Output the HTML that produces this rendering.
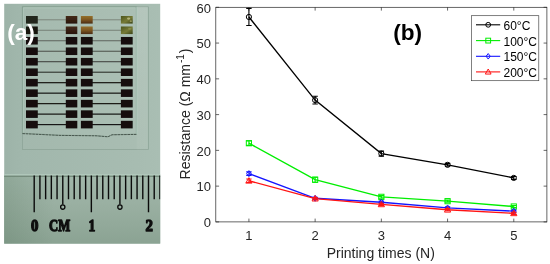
<!DOCTYPE html>
<html lang="en"><head><meta charset="utf-8"><title>Figure</title>
<style>
html,body{margin:0;padding:0;background:#fff;}
body{width:550px;height:264px;overflow:hidden;}
svg{display:block;}
text{font-family:"Liberation Sans",Arial,sans-serif;}
.tk{font-size:13px;fill:#262626;}
.lb{font-size:14px;fill:#262626;}
.lg{font-size:12px;fill:#000;}
.rl{font-family:"Liberation Serif","Times New Roman",serif;font-weight:bold;font-size:17px;fill:#0c0c0c;}
.pl{font-weight:bold;font-size:22.6px;}
</style></head><body>
<svg width="550" height="264" viewBox="0 0 550 264">
<defs>
<filter id="bl" x="-5%" y="-5%" width="110%" height="110%"><feGaussianBlur stdDeviation="0.45"/></filter>
<filter id="bl2" x="-5%" y="-5%" width="110%" height="110%"><feGaussianBlur stdDeviation="0.7"/></filter>
<linearGradient id="bg" gradientUnits="userSpaceOnUse" x1="4" y1="0" x2="160" y2="0"><stop offset="0" stop-color="#9db3a8"/><stop offset="0.12" stop-color="#a1b7ac"/><stop offset="0.85" stop-color="#a7bcb1"/><stop offset="1" stop-color="#a9beb3"/></linearGradient>
<linearGradient id="vl" gradientUnits="userSpaceOnUse" x1="0" y1="4" x2="0" y2="150"><stop offset="0" stop-color="#fff" stop-opacity="0.13"/><stop offset="1" stop-color="#fff" stop-opacity="0.04"/></linearGradient>
<linearGradient id="ruler" x1="0" y1="0" x2="0" y2="1"><stop offset="0" stop-color="#a2b8ab"/><stop offset="0.45" stop-color="#99afa1"/><stop offset="1" stop-color="#8ba393"/></linearGradient>
<linearGradient id="lshade" x1="0" y1="0" x2="1" y2="0"><stop offset="0" stop-color="#4a6a52" stop-opacity="0.22"/><stop offset="1" stop-color="#4a6a52" stop-opacity="0"/></linearGradient>
<linearGradient id="gold" x1="0" y1="0" x2="0" y2="1"><stop offset="0" stop-color="#94702c"/><stop offset="0.5" stop-color="#7c5520"/><stop offset="1" stop-color="#4a2d15"/></linearGradient>
<linearGradient id="brown" x1="0" y1="0" x2="0" y2="1"><stop offset="0" stop-color="#442a16"/><stop offset="1" stop-color="#28140d"/></linearGradient>
<linearGradient id="olive" x1="0" y1="0" x2="1" y2="1"><stop offset="0" stop-color="#4b541c"/><stop offset="0.55" stop-color="#767a36"/><stop offset="1" stop-color="#3a4216"/></linearGradient>
<clipPath id="pc"><rect x="4.2" y="3.8" width="156" height="239.8"/></clipPath>
</defs>
<rect width="550" height="264" fill="#fff"/>

<g filter="url(#bl)">
<rect x="4.2" y="3.8" width="156.0" height="239.79999999999998" fill="url(#bg)"/>
<rect x="22.4" y="6.8" width="126" height="142.8" fill="#fff" fill-opacity="0.025" stroke="#8aa295" stroke-width="0.7"/>
<rect x="136.8" y="6.8" width="10.8" height="142.8" fill="url(#vl)"/>
<path d="M22.4 6.8H136.4V134.2L112 134.6L108 136.6L96 135.6L60 135.2L22.4 133.2Z" fill="#fff" fill-opacity="0.03" stroke="#879f90" stroke-width="0.8"/>
<path d="M23.4 7.8H135.4" fill="none" stroke="#b6cdc1" stroke-width="0.7"/>
<path d="M23.4 7.8V132.6" fill="none" stroke="#b0c8bb" stroke-width="0.7"/>
<path d="M136.9 7V134" fill="none" stroke="#b8d0c4" stroke-width="0.8"/>
<path d="M22.4 133.6L60 135.4L96 135.8L108 136.8L112 134.8L136.4 134.4" fill="none" stroke="#3f4d45" stroke-width="0.9" stroke-dasharray="2.6 0.7"/>
<rect x="4.2" y="175.6" width="156.0" height="68.0" fill="url(#ruler)"/>
<rect x="4.2" y="175.6" width="50" height="68.0" fill="url(#lshade)"/>
<rect x="4.2" y="174.2" width="156.0" height="1.2" fill="#b4cbbe"/>
<rect x="4.2" y="175.7" width="156.0" height="1.2" fill="#708877"/>
<line x1="37" y1="19.80" x2="66.5" y2="19.80" stroke="#6a6f66" stroke-width="0.7"/>
<line x1="92" y1="19.80" x2="121.5" y2="19.80" stroke="#6a6f66" stroke-width="0.7"/>
<rect x="26" y="16.00" width="11.80" height="7.6" fill="#23281d"/>
<rect x="65.8" y="16.00" width="11.50" height="7.6" fill="url(#brown)"/>
<rect x="80.9" y="16.00" width="11.80" height="7.6" fill="url(#gold)"/>
<rect x="120.9" y="16.00" width="11.80" height="7.6" fill="url(#olive)"/>
<line x1="37" y1="30.28" x2="66.5" y2="30.28" stroke="#62675e" stroke-width="0.7"/>
<line x1="92" y1="30.28" x2="121.5" y2="30.28" stroke="#62675e" stroke-width="0.7"/>
<rect x="26" y="26.48" width="11.80" height="7.6" fill="#181410"/>
<rect x="65.8" y="26.48" width="11.50" height="7.6" fill="url(#brown)"/>
<rect x="80.9" y="26.48" width="11.80" height="7.6" fill="url(#gold)"/>
<rect x="120.9" y="26.48" width="11.80" height="7.6" fill="url(#olive)"/>
<line x1="37" y1="40.76" x2="66.5" y2="40.76" stroke="#4a4d46" stroke-width="0.8"/>
<line x1="92" y1="40.76" x2="121.5" y2="40.76" stroke="#4a4d46" stroke-width="0.8"/>
<rect x="26" y="36.96" width="11.80" height="7.6" fill="#15110f"/>
<rect x="65.8" y="36.96" width="11.50" height="7.6" fill="#15110f"/>
<rect x="80.9" y="36.96" width="11.80" height="7.6" fill="#15110f"/>
<rect x="120.9" y="36.96" width="11.80" height="7.6" fill="#15110f"/>
<line x1="37" y1="51.24" x2="66.5" y2="51.24" stroke="#3a3c36" stroke-width="0.85"/>
<line x1="92" y1="51.24" x2="121.5" y2="51.24" stroke="#3a3c36" stroke-width="0.85"/>
<rect x="26" y="47.44" width="11.80" height="7.6" fill="#15110f"/>
<rect x="65.8" y="47.44" width="11.50" height="7.6" fill="#15110f"/>
<rect x="80.9" y="47.44" width="11.80" height="7.6" fill="#15110f"/>
<rect x="120.9" y="47.44" width="11.80" height="7.6" fill="#15110f"/>
<line x1="37" y1="61.72" x2="66.5" y2="61.72" stroke="#2c2d28" stroke-width="0.9"/>
<line x1="92" y1="61.72" x2="121.5" y2="61.72" stroke="#2c2d28" stroke-width="0.9"/>
<rect x="26" y="57.92" width="11.80" height="7.6" fill="#15110f"/>
<rect x="65.8" y="57.92" width="11.50" height="7.6" fill="#15110f"/>
<rect x="80.9" y="57.92" width="11.80" height="7.6" fill="#15110f"/>
<rect x="120.9" y="57.92" width="11.80" height="7.6" fill="#15110f"/>
<line x1="37" y1="72.20" x2="66.5" y2="72.20" stroke="#22231f" stroke-width="1.0"/>
<line x1="92" y1="72.20" x2="121.5" y2="72.20" stroke="#22231f" stroke-width="1.0"/>
<rect x="26" y="68.40" width="11.80" height="7.6" fill="#15110f"/>
<rect x="65.8" y="68.40" width="11.50" height="7.6" fill="#15110f"/>
<rect x="80.9" y="68.40" width="11.80" height="7.6" fill="#15110f"/>
<rect x="120.9" y="68.40" width="11.80" height="7.6" fill="#15110f"/>
<line x1="37" y1="82.68" x2="66.5" y2="82.68" stroke="#141412" stroke-width="1.2"/>
<line x1="92" y1="82.68" x2="121.5" y2="82.68" stroke="#141412" stroke-width="1.2"/>
<rect x="26" y="78.88" width="11.80" height="7.6" fill="#15110f"/>
<rect x="65.8" y="78.88" width="11.50" height="7.6" fill="#15110f"/>
<rect x="80.9" y="78.88" width="11.80" height="7.6" fill="#15110f"/>
<rect x="120.9" y="78.88" width="11.80" height="7.6" fill="#15110f"/>
<line x1="37" y1="93.16" x2="66.5" y2="93.16" stroke="#141412" stroke-width="1.2"/>
<line x1="92" y1="93.16" x2="121.5" y2="93.16" stroke="#141412" stroke-width="1.2"/>
<rect x="26" y="89.36" width="11.80" height="7.6" fill="#15110f"/>
<rect x="65.8" y="89.36" width="11.50" height="7.6" fill="#15110f"/>
<rect x="80.9" y="89.36" width="11.80" height="7.6" fill="#15110f"/>
<rect x="120.9" y="89.36" width="11.80" height="7.6" fill="#15110f"/>
<line x1="37" y1="103.64" x2="66.5" y2="103.64" stroke="#141412" stroke-width="1.2"/>
<line x1="92" y1="103.64" x2="121.5" y2="103.64" stroke="#141412" stroke-width="1.2"/>
<rect x="26" y="99.84" width="11.80" height="7.6" fill="#15110f"/>
<rect x="65.8" y="99.84" width="11.50" height="7.6" fill="#15110f"/>
<rect x="80.9" y="99.84" width="11.80" height="7.6" fill="#15110f"/>
<rect x="120.9" y="99.84" width="11.80" height="7.6" fill="#15110f"/>
<line x1="37" y1="114.12" x2="66.5" y2="114.12" stroke="#141412" stroke-width="1.2"/>
<line x1="92" y1="114.12" x2="121.5" y2="114.12" stroke="#141412" stroke-width="1.2"/>
<rect x="26" y="110.32" width="11.80" height="7.6" fill="#15110f"/>
<rect x="65.8" y="110.32" width="11.50" height="7.6" fill="#15110f"/>
<rect x="80.9" y="110.32" width="11.80" height="7.6" fill="#15110f"/>
<rect x="120.9" y="110.32" width="11.80" height="7.6" fill="#15110f"/>
<line x1="37" y1="124.60" x2="66.5" y2="124.60" stroke="#141412" stroke-width="1.2"/>
<line x1="92" y1="124.60" x2="121.5" y2="124.60" stroke="#141412" stroke-width="1.2"/>
<rect x="26" y="120.80" width="11.80" height="7.6" fill="#15110f"/>
<rect x="65.8" y="120.80" width="11.50" height="7.6" fill="#15110f"/>
<rect x="80.9" y="120.80" width="11.80" height="7.6" fill="#15110f"/>
<rect x="120.9" y="120.80" width="11.80" height="7.6" fill="#15110f"/>
<ellipse cx="128.6" cy="18.6" rx="1.6" ry="1.1" fill="#c9c88f" fill-opacity="0.75"/><ellipse cx="130.8" cy="21.2" rx="1.1" ry="0.9" fill="#b9b87c" fill-opacity="0.6"/><ellipse cx="129.8" cy="28.8" rx="1.8" ry="0.9" fill="#9a9c58" fill-opacity="0.6"/>
</g>
<g stroke="#0b0b0b" stroke-width="1.4" clip-path="url(#pc)">
<line x1="34.20" y1="175.4" x2="34.20" y2="212.2"/>
<line x1="39.92" y1="175.4" x2="39.92" y2="199.2"/>
<line x1="45.63" y1="175.4" x2="45.63" y2="199.2"/>
<line x1="51.34" y1="175.4" x2="51.34" y2="199.2"/>
<line x1="57.06" y1="175.4" x2="57.06" y2="199.2"/>
<line x1="62.78" y1="175.4" x2="62.78" y2="204.4"/>
<line x1="68.49" y1="175.4" x2="68.49" y2="199.2"/>
<line x1="74.20" y1="175.4" x2="74.20" y2="199.2"/>
<line x1="79.92" y1="175.4" x2="79.92" y2="199.2"/>
<line x1="85.64" y1="175.4" x2="85.64" y2="199.2"/>
<line x1="91.35" y1="175.4" x2="91.35" y2="212.2"/>
<line x1="97.06" y1="175.4" x2="97.06" y2="199.2"/>
<line x1="102.78" y1="175.4" x2="102.78" y2="199.2"/>
<line x1="108.50" y1="175.4" x2="108.50" y2="199.2"/>
<line x1="114.21" y1="175.4" x2="114.21" y2="199.2"/>
<line x1="119.92" y1="175.4" x2="119.92" y2="204.4"/>
<line x1="125.64" y1="175.4" x2="125.64" y2="199.2"/>
<line x1="131.36" y1="175.4" x2="131.36" y2="199.2"/>
<line x1="137.07" y1="175.4" x2="137.07" y2="199.2"/>
<line x1="142.78" y1="175.4" x2="142.78" y2="199.2"/>
<line x1="148.50" y1="175.4" x2="148.50" y2="212.2"/>
<line x1="154.22" y1="175.4" x2="154.22" y2="199.2"/>
<line x1="159.93" y1="175.4" x2="159.93" y2="199.2"/>
<circle cx="62.78" cy="207.1" r="2.15" fill="none" stroke-width="1.3"/>
<circle cx="119.92" cy="207.1" r="2.15" fill="none" stroke-width="1.3"/>
</g>
<g filter="url(#bl)">
<g stroke="#0c0c0c" stroke-width="1.35" stroke-linejoin="round">
<text class="rl" x="30.9" y="231.1" textLength="7.4" lengthAdjust="spacingAndGlyphs">0</text>
<text class="rl" x="49" y="231.2" textLength="21.2" lengthAdjust="spacingAndGlyphs">CM</text>
<text class="rl" x="88.4" y="231.2" textLength="6.8" lengthAdjust="spacingAndGlyphs">1</text>
<text class="rl" x="145.6" y="231.2" textLength="7.4" lengthAdjust="spacingAndGlyphs">2</text>
</g>
</g>
<text class="pl" x="7.2" y="40.3" fill="#fff">(a)</text>
<rect x="215.8" y="7.3" width="331.10" height="214.60" fill="#fff" stroke="#262626" stroke-width="0.7"/>
<g stroke="#262626" stroke-width="0.7">
<line x1="248.91" y1="221.9" x2="248.91" y2="218.6"/><line x1="248.91" y1="7.3" x2="248.91" y2="10.6"/>
<line x1="315.13" y1="221.9" x2="315.13" y2="218.6"/><line x1="315.13" y1="7.3" x2="315.13" y2="10.6"/>
<line x1="381.35" y1="221.9" x2="381.35" y2="218.6"/><line x1="381.35" y1="7.3" x2="381.35" y2="10.6"/>
<line x1="447.57" y1="221.9" x2="447.57" y2="218.6"/><line x1="447.57" y1="7.3" x2="447.57" y2="10.6"/>
<line x1="513.79" y1="221.9" x2="513.79" y2="218.6"/><line x1="513.79" y1="7.3" x2="513.79" y2="10.6"/>
<line x1="215.8" y1="221.90" x2="219.10000000000002" y2="221.90"/><line x1="546.9" y1="221.90" x2="543.6" y2="221.90"/>
<line x1="215.8" y1="186.13" x2="219.10000000000002" y2="186.13"/><line x1="546.9" y1="186.13" x2="543.6" y2="186.13"/>
<line x1="215.8" y1="150.37" x2="219.10000000000002" y2="150.37"/><line x1="546.9" y1="150.37" x2="543.6" y2="150.37"/>
<line x1="215.8" y1="114.60" x2="219.10000000000002" y2="114.60"/><line x1="546.9" y1="114.60" x2="543.6" y2="114.60"/>
<line x1="215.8" y1="78.83" x2="219.10000000000002" y2="78.83"/><line x1="546.9" y1="78.83" x2="543.6" y2="78.83"/>
<line x1="215.8" y1="43.07" x2="219.10000000000002" y2="43.07"/><line x1="546.9" y1="43.07" x2="543.6" y2="43.07"/>
<line x1="215.8" y1="7.30" x2="219.10000000000002" y2="7.30"/><line x1="546.9" y1="7.30" x2="543.6" y2="7.30"/>
</g>
<text class="tk" x="248.91" y="239.8" text-anchor="middle">1</text>
<text class="tk" x="315.13" y="239.8" text-anchor="middle">2</text>
<text class="tk" x="381.35" y="239.8" text-anchor="middle">3</text>
<text class="tk" x="447.57" y="239.8" text-anchor="middle">4</text>
<text class="tk" x="513.79" y="239.8" text-anchor="middle">5</text>
<text class="tk" x="211" y="227.20" text-anchor="end">0</text>
<text class="tk" x="211" y="191.43" text-anchor="end">10</text>
<text class="tk" x="211" y="155.67" text-anchor="end">20</text>
<text class="tk" x="211" y="119.90" text-anchor="end">30</text>
<text class="tk" x="211" y="84.13" text-anchor="end">40</text>
<text class="tk" x="211" y="48.37" text-anchor="end">50</text>
<text class="tk" x="211" y="12.60" text-anchor="end">60</text>
<text class="lb" x="380.8" y="258.4" text-anchor="middle">Printing times (N)</text>
<text class="lb" transform="translate(190.3 114) rotate(-90)" text-anchor="middle">Resistance (Ω mm<tspan dx="0.9" dy="-6.6" font-size="10px">-1</tspan><tspan dx="1" dy="6.6">)</tspan></text>
<text class="pl" x="393.3" y="39.6" fill="#000">(b)</text>
<polyline points="248.91,16.96 315.13,100.11 381.35,153.59 447.57,164.85 513.79,177.91" fill="none" stroke="#000000" stroke-width="1.35"/>
<path d="M248.91 8.37V25.54M246.21 8.37H251.61M246.21 25.54H251.61" fill="none" stroke="#000000" stroke-width="1.1"/>
<circle cx="248.91" cy="16.96" r="2.60" fill="none" stroke="#000000" stroke-width="1"/>
<path d="M315.13 96.18V104.05M312.43 96.18H317.83M312.43 104.05H317.83" fill="none" stroke="#000000" stroke-width="1.1"/>
<circle cx="315.13" cy="100.11" r="2.60" fill="none" stroke="#000000" stroke-width="1"/>
<path d="M381.35 151.08V156.09M378.65 151.08H384.05M378.65 156.09H384.05" fill="none" stroke="#000000" stroke-width="1.1"/>
<circle cx="381.35" cy="153.59" r="2.60" fill="none" stroke="#000000" stroke-width="1"/>
<path d="M447.57 163.42V166.28M444.87 163.42H450.27M444.87 166.28H450.27" fill="none" stroke="#000000" stroke-width="1.1"/>
<circle cx="447.57" cy="164.85" r="2.60" fill="none" stroke="#000000" stroke-width="1"/>
<path d="M513.79 176.48V179.34M511.09 176.48H516.49M511.09 179.34H516.49" fill="none" stroke="#000000" stroke-width="1.1"/>
<circle cx="513.79" cy="177.91" r="2.60" fill="none" stroke="#000000" stroke-width="1"/>
<polyline points="248.91,143.21 315.13,179.70 381.35,196.86 447.57,201.16 513.79,206.52" fill="none" stroke="#00ee00" stroke-width="1.35"/>
<path d="M248.91 141.07V145.36M246.21 141.07H251.61M246.21 145.36H251.61" fill="none" stroke="#00ee00" stroke-width="1.1"/>
<rect x="246.31" y="140.61" width="5.20" height="5.20" fill="none" stroke="#00ee00" stroke-width="1"/>
<path d="M315.13 177.19V182.20M312.43 177.19H317.83M312.43 182.20H317.83" fill="none" stroke="#00ee00" stroke-width="1.1"/>
<rect x="312.53" y="177.10" width="5.20" height="5.20" fill="none" stroke="#00ee00" stroke-width="1"/>
<path d="M381.35 195.43V198.29M378.65 195.43H384.05M378.65 198.29H384.05" fill="none" stroke="#00ee00" stroke-width="1.1"/>
<rect x="378.75" y="194.26" width="5.20" height="5.20" fill="none" stroke="#00ee00" stroke-width="1"/>
<path d="M447.57 200.08V202.23M444.87 200.08H450.27M444.87 202.23H450.27" fill="none" stroke="#00ee00" stroke-width="1.1"/>
<rect x="444.97" y="198.56" width="5.20" height="5.20" fill="none" stroke="#00ee00" stroke-width="1"/>
<path d="M513.79 205.45V207.59M511.09 205.45H516.49M511.09 207.59H516.49" fill="none" stroke="#00ee00" stroke-width="1.1"/>
<rect x="511.19" y="203.92" width="5.20" height="5.20" fill="none" stroke="#00ee00" stroke-width="1"/>
<polyline points="248.91,173.62 315.13,198.29 381.35,202.23 447.57,207.95 513.79,211.17" fill="none" stroke="#1414ff" stroke-width="1.35"/>
<path d="M248.91 171.83V175.40M246.21 171.83H251.61M246.21 175.40H251.61" fill="none" stroke="#1414ff" stroke-width="1.1"/>
<path d="M248.91 170.62L251.15 173.62L248.91 176.61L246.67 173.62Z" fill="none" stroke="#1414ff" stroke-width="1"/>
<path d="M315.13 197.22V199.37M312.43 197.22H317.83M312.43 199.37H317.83" fill="none" stroke="#1414ff" stroke-width="1.1"/>
<path d="M315.13 195.30L317.37 198.29L315.13 201.28L312.89 198.29Z" fill="none" stroke="#1414ff" stroke-width="1"/>
<path d="M381.35 201.16V203.30M378.65 201.16H384.05M378.65 203.30H384.05" fill="none" stroke="#1414ff" stroke-width="1.1"/>
<path d="M381.35 199.24L383.59 202.23L381.35 205.22L379.11 202.23Z" fill="none" stroke="#1414ff" stroke-width="1"/>
<path d="M447.57 206.88V209.02M444.87 206.88H450.27M444.87 209.02H450.27" fill="none" stroke="#1414ff" stroke-width="1.1"/>
<path d="M447.57 204.96L449.81 207.95L447.57 210.94L445.33 207.95Z" fill="none" stroke="#1414ff" stroke-width="1"/>
<path d="M513.79 210.10V212.24M511.09 210.10H516.49M511.09 212.24H516.49" fill="none" stroke="#1414ff" stroke-width="1.1"/>
<path d="M513.79 208.18L516.03 211.17L513.79 214.16L511.55 211.17Z" fill="none" stroke="#1414ff" stroke-width="1"/>
<polyline points="248.91,180.77 315.13,198.65 381.35,204.37 447.57,209.74 513.79,213.32" fill="none" stroke="#ff1414" stroke-width="1.35"/>
<path d="M248.91 178.98V182.56M246.21 178.98H251.61M246.21 182.56H251.61" fill="none" stroke="#ff1414" stroke-width="1.1"/>
<path d="M248.91 177.65L252.03 183.11L245.79 183.11Z" fill="none" stroke="#ff1414" stroke-width="1"/>
<path d="M315.13 197.58V199.72M312.43 197.58H317.83M312.43 199.72H317.83" fill="none" stroke="#ff1414" stroke-width="1.1"/>
<path d="M315.13 195.53L318.25 200.99L312.01 200.99Z" fill="none" stroke="#ff1414" stroke-width="1"/>
<path d="M381.35 203.30V205.45M378.65 203.30H384.05M378.65 205.45H384.05" fill="none" stroke="#ff1414" stroke-width="1.1"/>
<path d="M381.35 201.25L384.47 206.71L378.23 206.71Z" fill="none" stroke="#ff1414" stroke-width="1"/>
<path d="M447.57 208.67V210.81M444.87 208.67H450.27M444.87 210.81H450.27" fill="none" stroke="#ff1414" stroke-width="1.1"/>
<path d="M447.57 206.62L450.69 212.08L444.45 212.08Z" fill="none" stroke="#ff1414" stroke-width="1"/>
<path d="M513.79 212.24V214.39M511.09 212.24H516.49M511.09 214.39H516.49" fill="none" stroke="#ff1414" stroke-width="1.1"/>
<path d="M513.79 210.20L516.91 215.66L510.67 215.66Z" fill="none" stroke="#ff1414" stroke-width="1"/>
<rect x="471.6" y="15.7" width="67.2" height="65" fill="#fff" stroke="#3c3c3c" stroke-width="0.65"/>
<line x1="476" y1="24.8" x2="500.2" y2="24.8" stroke="#000000" stroke-width="1.1"/>
<circle cx="488.20" cy="24.80" r="2.40" fill="none" stroke="#000000" stroke-width="1"/>
<text class="lg" x="503.5" y="29.7">60°C</text>
<line x1="476" y1="40.6" x2="500.2" y2="40.6" stroke="#00ee00" stroke-width="1.1"/>
<rect x="485.80" y="38.20" width="4.80" height="4.80" fill="none" stroke="#00ee00" stroke-width="1"/>
<text class="lg" x="503.5" y="45.5">100°C</text>
<line x1="476" y1="56.3" x2="500.2" y2="56.3" stroke="#1414ff" stroke-width="1.1"/>
<path d="M488.20 53.54L490.27 56.30L488.20 59.06L486.13 56.30Z" fill="none" stroke="#1414ff" stroke-width="1"/>
<text class="lg" x="503.5" y="61.2">150°C</text>
<line x1="476" y1="71.9" x2="500.2" y2="71.9" stroke="#ff1414" stroke-width="1.1"/>
<path d="M488.20 69.02L491.08 74.06L485.32 74.06Z" fill="none" stroke="#ff1414" stroke-width="1"/>
<text class="lg" x="503.5" y="76.8">200°C</text>
</svg>
</body></html>
